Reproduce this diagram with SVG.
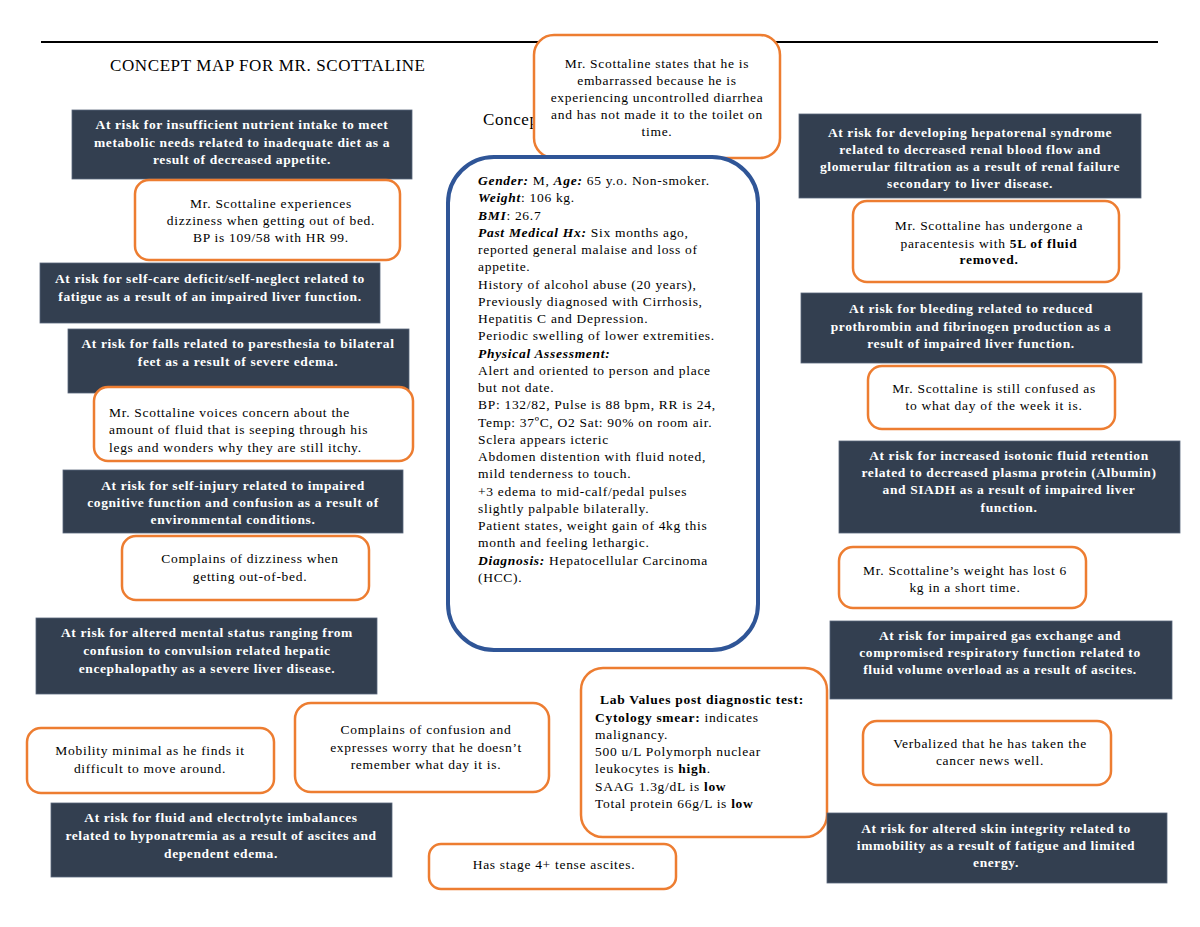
<svg xmlns="http://www.w3.org/2000/svg" width="1200" height="927" viewBox="0 0 1200 927">
<style>
.dk{fill:#333f50;stroke:#59677a;stroke-width:0.8}
.dt{font-family:"Liberation Serif",serif;font-weight:bold;font-size:13.5px;letter-spacing:0.6px;fill:#ffffff;text-anchor:middle}
.ob{fill:#ffffff;stroke:#ed7d31;stroke-width:2.5}
.ot{font-family:"Liberation Serif",serif;font-size:13.5px;letter-spacing:0.7px;fill:#000000;text-anchor:middle}
.ol{font-family:"Liberation Serif",serif;font-size:13.5px;letter-spacing:0.7px;fill:#000000}
.bi{font-weight:bold;font-style:italic}
.b{font-weight:bold}
.hd{font-family:"Liberation Serif",serif;font-size:17px;letter-spacing:0.6px;fill:#000000}
</style>
<rect width="1200" height="927" fill="#ffffff"/>
<line x1="41" y1="42" x2="1158" y2="42" stroke="#000" stroke-width="2"/>
<text class="hd" x="110" y="71">CONCEPT MAP FOR MR. SCOTTALINE</text>
<text class="hd" x="483" y="125">Concep</text>
<g id="connectors"></g>

<g id="n-diarrhea">
<rect class="ob" x="534" y="35" width="246" height="123" rx="20"/>
<text class="ot" x="657" y="68">Mr. Scottaline states that he is</text>
<text class="ot" x="657" y="85">embarrassed because he is</text>
<text class="ot" x="657" y="102">experiencing uncontrolled diarrhea</text>
<text class="ot" x="657" y="119">and has not made it to the toilet on</text>
<text class="ot" x="657" y="136">time.</text>
</g>

<g id="n-nutrient">
<rect class="dk" x="72" y="110" width="340" height="69"/>
<text class="dt" x="242" y="129">At risk for insufficient nutrient intake to meet</text>
<text class="dt" x="242" y="147">metabolic needs related to inadequate diet as a</text>
<text class="dt" x="242" y="164">result of decreased appetite.</text>
</g>

<g id="n-dizzy1">
<rect class="ob" x="135" y="180" width="265" height="80" rx="14"/>
<text class="ot" x="271" y="208">Mr. Scottaline experiences</text>
<text class="ot" x="271" y="225">dizziness when getting out of bed.</text>
<text class="ot" x="271" y="242">BP is 109/58 with HR 99.</text>
</g>

<g id="n-selfcare">
<rect class="dk" x="40" y="263" width="340" height="60"/>
<text class="dt" x="210" y="283">At risk for self-care deficit/self-neglect related to</text>
<text class="dt" x="210" y="301">fatigue as a result of an impaired liver function.</text>
</g>

<g id="n-falls">
<rect class="dk" x="68" y="329" width="341" height="64"/>
<text class="dt" x="238" y="348">At risk for falls related to paresthesia to bilateral</text>
<text class="dt" x="238" y="366">feet as a result of severe edema.</text>
</g>

<g id="n-fluid">
<rect class="ob" x="94" y="387" width="319" height="74" rx="14"/>
<text class="ol" x="109" y="417">Mr. Scottaline voices concern about the</text>
<text class="ol" x="109" y="434">amount of fluid that is seeping through his</text>
<text class="ol" x="109" y="452">legs and wonders why they are still itchy.</text>
</g>

<g id="n-selfinjury">
<rect class="dk" x="63" y="470" width="340" height="63"/>
<text class="dt" x="233" y="490">At risk for self-injury related to impaired</text>
<text class="dt" x="233" y="507">cognitive function and confusion as a result of</text>
<text class="dt" x="233" y="524">environmental conditions.</text>
</g>

<g id="n-dizzy2">
<rect class="ob" x="122" y="536" width="247" height="64" rx="14"/>
<text class="ot" x="250" y="563">Complains of dizziness when</text>
<text class="ot" x="250" y="581">getting out-of-bed.</text>
</g>

<g id="n-mental">
<rect class="dk" x="36" y="618" width="341" height="76"/>
<text class="dt" x="207" y="637">At risk for altered mental status ranging from</text>
<text class="dt" x="207" y="655">confusion to convulsion related hepatic</text>
<text class="dt" x="207" y="673">encephalopathy as a severe liver disease.</text>
</g>

<g id="n-mobility">
<rect class="ob" x="27" y="728" width="247" height="65" rx="14"/>
<text class="ot" x="150" y="755">Mobility minimal as he finds it</text>
<text class="ot" x="150" y="773">difficult to move around.</text>
</g>

<g id="n-electrolyte">
<rect class="dk" x="51" y="803" width="341" height="74"/>
<text class="dt" x="221" y="822">At risk for fluid and electrolyte imbalances</text>
<text class="dt" x="221" y="840">related to hyponatremia as a result of ascites and</text>
<text class="dt" x="221" y="858">dependent edema.</text>
</g>

<g id="n-confusion">
<rect class="ob" x="295" y="703" width="254" height="89" rx="16"/>
<text class="ot" x="426" y="734">Complains of confusion and</text>
<text class="ot" x="426" y="752">expresses worry that he doesn’t</text>
<text class="ot" x="426" y="769">remember what day it is.</text>
</g>

<g id="n-ascites">
<rect class="ob" x="429" y="844" width="247" height="45" rx="12"/>
<text class="ot" x="554" y="869">Has stage 4+ tense ascites.</text>
</g>

<g id="n-labs">
<rect class="ob" x="581" y="668" width="246" height="169" rx="22"/>
<text class="ol" x="600" y="704"><tspan class="b">Lab Values post diagnostic test:</tspan></text>
<text class="ol" x="595" y="722"><tspan class="b">Cytology smear:</tspan> indicates</text>
<text class="ol" x="595" y="739">malignancy.</text>
<text class="ol" x="595" y="756">500 u/L Polymorph nuclear</text>
<text class="ol" x="595" y="773">leukocytes is <tspan class="b">high</tspan>.</text>
<text class="ol" x="595" y="791">SAAG 1.3g/dL is <tspan class="b">low</tspan></text>
<text class="ol" x="595" y="808">Total protein 66g/L is <tspan class="b">low</tspan></text>
</g>

<g id="n-patient">
<rect x="448" y="157" width="310" height="493" rx="46" fill="#ffffff" stroke="#2f5597" stroke-width="4"/>
<text class="ol" x="478" y="185"><tspan class="bi">Gender:</tspan> M, <tspan class="bi">Age:</tspan> 65 y.o. Non-smoker.</text>
<text class="ol" x="478" y="202.25"><tspan class="bi">Weight</tspan>: 106 kg.</text>
<text class="ol" x="478" y="219.5"><tspan class="bi">BMI</tspan>: 26.7</text>
<text class="ol" x="478" y="236.75"><tspan class="bi">Past Medical Hx:</tspan>  Six months ago,</text>
<text class="ol" x="478" y="254">reported general malaise and loss of</text>
<text class="ol" x="478" y="271.25">appetite.</text>
<text class="ol" x="478" y="288.5">History of alcohol abuse (20 years),</text>
<text class="ol" x="478" y="305.75">Previously diagnosed with Cirrhosis,</text>
<text class="ol" x="478" y="323">Hepatitis C and Depression.</text>
<text class="ol" x="478" y="340.25">Periodic swelling of lower extremities.</text>
<text class="ol" x="478" y="357.5"><tspan class="bi">Physical Assessment:</tspan></text>
<text class="ol" x="478" y="374.75">Alert and oriented to person and place</text>
<text class="ol" x="478" y="392">but not date.</text>
<text class="ol" x="478" y="409.25">BP: 132/82, Pulse is 88 bpm, RR is 24,</text>
<text class="ol" x="478" y="426.5">Temp: 37ºC, O2 Sat: 90% on room air.</text>
<text class="ol" x="478" y="443.75">Sclera appears icteric</text>
<text class="ol" x="478" y="461">Abdomen distention with fluid noted,</text>
<text class="ol" x="478" y="478.25">mild tenderness to touch.</text>
<text class="ol" x="478" y="495.5">+3 edema to mid-calf/pedal pulses</text>
<text class="ol" x="478" y="512.75">slightly palpable bilaterally.</text>
<text class="ol" x="478" y="530">Patient states, weight gain of 4kg this</text>
<text class="ol" x="478" y="547.25">month and feeling lethargic.</text>
<text class="ol" x="478" y="564.5"><tspan class="bi">Diagnosis:</tspan> Hepatocellular Carcinoma</text>
<text class="ol" x="478" y="581.75">(HCC).</text>
</g>

<g id="n-hepatorenal">
<rect class="dk" x="799" y="114" width="342" height="84"/>
<text class="dt" x="970" y="137">At risk for developing hepatorenal syndrome</text>
<text class="dt" x="970" y="154">related to decreased renal blood flow and</text>
<text class="dt" x="970" y="171">glomerular filtration as a result of renal failure</text>
<text class="dt" x="970" y="188">secondary to liver disease.</text>
</g>

<g id="n-paracentesis">
<rect class="ob" x="853" y="201" width="266" height="81" rx="14"/>
<text class="ot" x="989" y="230">Mr. Scottaline has undergone a</text>
<text class="ot" x="989" y="248">paracentesis with <tspan class="b">5L of fluid</tspan></text>
<text class="ot" x="989" y="264"><tspan class="b">removed.</tspan></text>
</g>

<g id="n-bleeding">
<rect class="dk" x="801" y="293" width="341" height="70"/>
<text class="dt" x="971" y="313">At risk for bleeding related to reduced</text>
<text class="dt" x="971" y="331">prothrombin and fibrinogen production as a</text>
<text class="dt" x="971" y="348">result of impaired liver function.</text>
</g>

<g id="n-dayconfused">
<rect class="ob" x="868" y="366" width="247" height="63" rx="14"/>
<text class="ot" x="994" y="393">Mr. Scottaline is still confused as</text>
<text class="ot" x="994" y="410">to what day of the week it is.</text>
</g>

<g id="n-isotonic">
<rect class="dk" x="839" y="441" width="341" height="92"/>
<text class="dt" x="1009" y="460">At risk for increased isotonic fluid retention</text>
<text class="dt" x="1009" y="477">related to decreased plasma protein (Albumin)</text>
<text class="dt" x="1009" y="494">and SIADH as a result of impaired liver</text>
<text class="dt" x="1009" y="512">function.</text>
</g>

<g id="n-weight">
<rect class="ob" x="839" y="547" width="247" height="61" rx="14"/>
<text class="ot" x="965" y="575">Mr. Scottaline’s weight has lost 6</text>
<text class="ot" x="965" y="592">kg in a short time.</text>
</g>

<g id="n-gas">
<rect class="dk" x="830" y="621" width="342" height="78"/>
<text class="dt" x="1000" y="640">At risk for impaired gas exchange and</text>
<text class="dt" x="1000" y="657">compromised respiratory function related to</text>
<text class="dt" x="1000" y="674">fluid volume overload as a result of ascites.</text>
</g>

<g id="n-verbalized">
<rect class="ob" x="863" y="721" width="248" height="64" rx="14"/>
<text class="ot" x="990" y="748">Verbalized that he has taken the</text>
<text class="ot" x="990" y="765">cancer news well.</text>
</g>

<g id="n-skin">
<rect class="dk" x="827" y="813" width="340" height="70"/>
<text class="dt" x="996" y="833">At risk for altered skin integrity related to</text>
<text class="dt" x="996" y="850">immobility as a result of fatigue and limited</text>
<text class="dt" x="996" y="867">energy.</text>
</g>
</svg>
